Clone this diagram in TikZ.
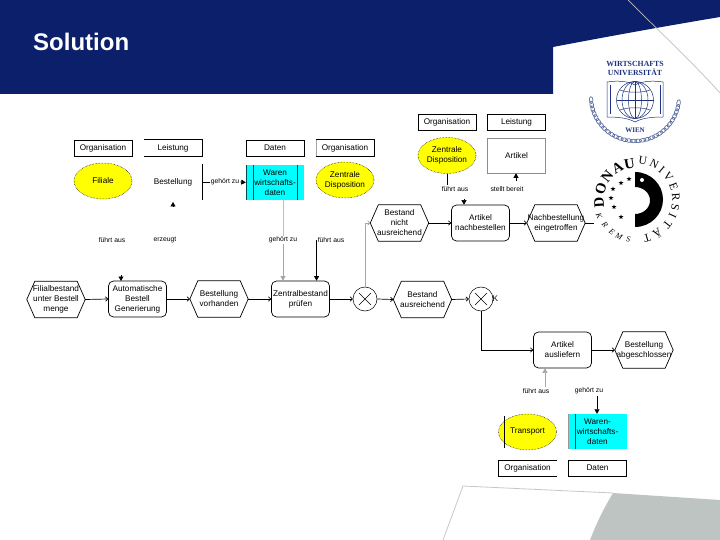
\documentclass[tikz,border=0pt]{standalone}
\usepackage{fontspec}
\setmainfont{Liberation Sans}
\newfontfamily\logofont{Liberation Serif}
\usetikzlibrary{arrows.meta,calc,shapes.geometric}
\definecolor{navy}{HTML}{0B1F6B}
\definecolor{wucol}{HTML}{1F3480}
\definecolor{wreath}{HTML}{5F6F9F}
\definecolor{swoosh}{HTML}{BEC4C2}
\definecolor{orgyellow}{HTML}{FFFF00}
\definecolor{datacyan}{HTML}{00FFFF}
\begin{document}
\begin{tikzpicture}[x=1pt,y=-1pt,
    every node/.style={inner sep=0pt,align=center,font=\fontsize{8.2}{10}\selectfont},
    box/.style={rectangle,minimum width=58pt,minimum height=16pt},
    func/.style={rectangle,draw=black,rounded corners=5pt,minimum width=58pt,minimum height=36pt,line width=.7pt},
    event/.style={rectangle,minimum width=58pt,minimum height=36pt,
      append after command={\pgfextra{\draw[line width=.7pt] (\tikzlastnode.west)
        -- ($(\tikzlastnode.north west)+(8,0)$) -- ($(\tikzlastnode.north east)+(-8,0)$)
        -- (\tikzlastnode.east)
        -- ($(\tikzlastnode.south east)+(-8,0)$) -- ($(\tikzlastnode.south west)+(8,0)$) -- cycle;}}},
    org/.style={ellipse,fill=orgyellow,draw=black,densely dotted,minimum width=58pt,minimum height=36pt,line width=.5pt},
    data/.style={rectangle,fill=datacyan,minimum width=58pt,minimum height=35pt},
    xor/.style={circle,draw=black,minimum size=24pt,line width=.5pt,
      path picture={\draw[line width=.5pt] ($(path picture bounding box.center)+(-6,-6)$) -- ($(path picture bounding box.center)+(6,6)$)
        ($(path picture bounding box.center)+(-6,6)$) -- ($(path picture bounding box.center)+(6,-6)$);}},
    lab/.style={font=\fontsize{6.8}{8}\selectfont,fill=white,inner sep=1pt},
    flow/.style={line width=.7pt,-{To[length=3pt,width=5pt]}},
    assoc/.style={line width=.6pt,-{Triangle[length=4.5pt,width=5pt]}}]
\useasboundingbox (0,0) rectangle (720,540);
\fill[white] (0,0) rectangle (720,540);
% header and corner swoosh
\fill[navy] (0,0) -- (720,0) -- (720,17) .. controls (660,27) and (600,38) .. (553,47) -- (553,94) -- (0,94) -- cycle;
\draw[black!25,line width=.7pt] (628,0) .. controls (660,32) and (695,65) .. (720,93);
\fill[swoosh] (613,493) -- (720,500) -- (720,540) -- (590,540) .. controls (597,522) and (604,508) .. cycle;
\draw[black!22,line width=.8pt] (443,540) -- (463,486) -- (613,493);
\node[font=\bfseries\fontsize{24}{28}\selectfont,text=white,anchor=west] (title) at (33,42) {Solution};

% WU logo
\node[font=\logofont\bfseries\fontsize{7.8}{9}\selectfont,text=wucol] (wu1) at (635,64) {WIRTSCHAFTS};
\node[font=\logofont\bfseries\fontsize{7.8}{9}\selectfont,text=wucol] (wu2) at (635,72) {UNIVERSITÄT};
\node[font=\logofont\bfseries\fontsize{7}{9}\selectfont,text=wucol] (wu3) at (635,130) {WIEN};
\begin{scope}[draw=wucol,line width=.5pt]
  \draw (607,82) .. controls (620,80) and (630,82) .. (635,85) .. controls (640,82) and (650,80) .. (663,82)
    -- (663,117) .. controls (652,117) and (642,118) .. (635,122) .. controls (628,118) and (618,117) .. (607,117) -- cycle;
  \draw (610,85) -- (610,114) (660,85) -- (660,114);
  \draw (635,100) circle[radius=18.5pt];
  \draw (635,100) ellipse[x radius=6.5pt,y radius=18.5pt];
  \draw (635,100) ellipse[x radius=13pt,y radius=18.5pt];
  \draw (635,81.5) -- (635,118.5) (616.5,100) -- (653.5,100);
  \draw (620,90) .. controls (628,93) and (642,93) .. (650,90);
  \draw (620,110) .. controls (628,107) and (642,107) .. (650,110);
\end{scope}
\coordinate (wuc) at (635,97);
\foreach \a in {184,190,...,356}
  \draw[wreath,line width=.7pt] ($(wuc)+(\a:44pt)$) ellipse[x radius=3.4pt,y radius=1.8pt,rotate=\a+90];

% Donau logo
\coordinate (duc) at (636,200);
\fill[black] (635,172) arc[start angle=90,end angle=-90,x radius=28pt,y radius=27.5pt] -- (635,214)
  arc[start angle=-90,end angle=90,x radius=15pt,y radius=13.5pt] -- cycle;
\fill[white] (642,180) circle[radius=2pt];
\foreach \l/\a/\r [count=\i] in {D/184/37,O/162/37,N/141/37,A/120/37,U/100/37}
  \node[font=\logofont\bfseries\fontsize{14.5}{15}\selectfont,rotate=\a-90] (dn\i) at ($(duc)+(\a:\r pt)$) {\l};
\foreach \l/\a [count=\i] in {U/80,N/63,I/50,V/36,E/20,R/4,S/-11,I/-24,T/-38,Ä/-57,T/-74}
  \node[font=\logofont\fontsize{11.5}{12}\selectfont,rotate=\a-90] (un\i) at ($(duc)+(\a:40pt)$) {\l};
\foreach \l/\a [count=\i] in {K/203,R/219,E/233,M/245,S/259}
  \node[font=\logofont\itshape\fontsize{8}{8}\selectfont,rotate=\a+90] (kr\i) at ($(duc)+(\a:40pt)$) {\l};
\foreach \x/\y [count=\i] in {629/179,621/183,613/189,611/198,614/207,621/217}
  \node[star,star points=5,star point ratio=2.4,fill=black,minimum size=5pt] (st\i) at (\x,\y) {};

% header boxes
\node[box,draw=black,line width=.6pt] (bo1) at (103,148) {Organisation};
\node[box] (bl1) at (173,148) {Leistung};
\node[box,draw=black,line width=.6pt] (bd1) at (275,148) {Daten};
\node[box] (bo2) at (345,148) {Organisation};
\node[box,draw=black,line width=.6pt] (bo3) at (447,122) {Organisation};
\node[box,draw=black,line width=.6pt] (bl2) at (516.5,122) {Leistung};
\node[box] (bo4) at (527.5,468) {Organisation};
\node[box,draw=black,line width=.6pt] (bd2) at (597.5,468) {Daten};
\draw[line width=.6pt] (bl1.north west) -| (bl1.south east) -- (bl1.south west);
\draw[line width=.6pt] (bo2.south west) -- (bo2.south east) |- (bo2.north west);
\draw[black!35,line width=.6pt] (bo2.north west) -- (bo2.south west);
\draw[line width=.6pt] (bo4.south east) -- (bo4.south west) |- (bo4.north east);

% resources
\node[org] (filiale) at (103,181) {Filiale};
\node[rectangle,minimum width=58pt,minimum height=35pt] (best) at (173,182) {Bestellung};
\node[data] (waren1) at (275,182.5) {Waren\\wirtschafts-\\daten};
\node[org] (zd1) at (345,180) {Zentrale\\Disposition};
\node[org] (zd2) at (447,155.5) {Zentrale\\Disposition};
\node[rectangle,draw=black!45,minimum width=58pt,minimum height=35pt,line width=.6pt] (artikel) at (516.5,155.5) {Artikel};
\node[org] (trans) at (527.5,432) {Transport};
\node[data] (waren2) at (597.5,431.5) {Waren-\\wirtschafts-\\daten};
\draw[line width=.7pt] (best.north east) -- (best.south east);
\draw[black!70!datacyan,line width=.6pt] (253,165) -- (253,200) (297,165) -- (297,200) (waren1.north west) -- (waren1.south west);
\draw[black!70!datacyan,line width=.6pt] (575,414) -- (575,449);
\draw[black!40,line width=.6pt] (waren2.north west) -- (waren2.south west);
\draw[line width=.6pt] (504,416) -- (504,448);

% process
\node[event] (e1) at (56,299.5) {Filialbestand\\unter Bestell\\menge};
\node[func] (f1) at (137.5,299) {Automatische\\Bestell\\Generierung};
\node[event] (e2) at (219,299) {Bestellung\\vorhanden};
\node[func] (f2) at (300.5,299) {Zentralbestand\\prüfen};
\node[xor] (x1) at (365,299) {};
\node[event] (e3) at (422.5,299.5) {Bestand\\ausreichend};
\node[xor] (x2) at (481,299) {};
\node[anchor=west] (k) at (492.5,299) {K};
\node[event] (e4) at (399.5,223) {Bestand\\nicht\\ausreichend};
\node[func] (f3) at (480.5,223) {Artikel\\nachbestellen};
\node[event] (e5) at (556,223) {Nachbestellung\\eingetroffen};
\node[func] (f4) at (562.5,350) {Artikel\\ausliefern};
\node[event] (e6) at (644,350) {Bestellung\\abgeschlossen};
\coordinate (logoend) at (594,223);

% flow
\draw[flow] (e1.east) -- (f1.west);
\draw[flow] (f1.east) -- (e2.west);
\draw[flow] (e2.east) -- (f2.west);
\draw[flow] (f2.east) -- (x1.west);
\draw[flow] (x1.east) -- (e3.west);
\draw[flow] (e3.east) -- (x2.west);
\draw[flow,draw=black!35] (x1.north) |- (e4.west);
\draw[flow] (e4.east) -- (f3.west);
\draw[flow] (f3.east) -- (e5.west);
\draw[line width=.7pt] (e5.east) -- (logoend);
\draw[flow] (x2.south) |- (f4.west);
\draw[flow] (f4.east) -- (e6.west);

% labels on the connectors
\node[lab] (l1) at (225,182) {gehört zu};
\node[lab] (l2) at (112,240) {führt aus};
\node[lab] (l3) at (165,240) {erzeugt};
\node[lab] (l4) at (283,240) {gehört zu};
\node[lab] (l5) at (331,240) {führt aus};
\node[lab] (l6) at (455,189) {führt aus};
\node[lab] (l7) at (507,189) {stellt bereit};
\node[lab] (l8) at (536,391) {führt aus};
\node[lab] (l9) at (589,391) {gehört zu};

% assignments
\coordinate (s1) at (173,207);
\coordinate (t1) at (173,202);
\coordinate (s2) at (121,275);
\coordinate (t2) at (121,281);
\draw[assoc] (s1) -- (t1);
\draw[assoc] (s2) -- (t2);
\draw[line width=.7pt] (best.east) -- (l1.west);
\draw[assoc] (l1.east) -- (waren1.west);
\draw[black!25,line width=.7pt] (l4.north |- waren1.south) -- (l4.north);
\draw[assoc,black!35] (l4.south) -- (l4.south |- f2.north);
\draw[assoc] (l5.west) -- (l5.west |- f2.north);
\draw[line width=.6pt] (zd2.south) -- (zd2.south |- l6.north);
\coordinate (s3) at (464,199);
\draw[assoc] (s3) -- (s3 |- f3.north);
\coordinate (s4) at (516,181);
\draw[assoc] (s4) -- (s4 |- artikel.south);
\coordinate (s5) at (545,387);
\draw[assoc,black!35] (s5) -- (s5 |- f4.south);
\coordinate (s6) at (597,396);
\draw[assoc] (s6) -- (s6 |- waren2.north);
\end{tikzpicture}
\end{document}
